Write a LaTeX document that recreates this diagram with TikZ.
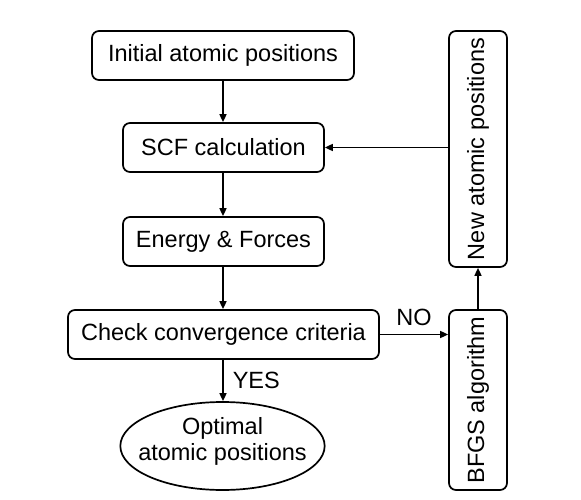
\documentclass[tikz,border=0pt]{standalone}
\usepackage{fontspec}
\setmainfont{Liberation Sans}
\usetikzlibrary{arrows.meta,shapes.geometric}
\begin{document}
\begin{tikzpicture}[x=1pt,y=-1pt,
  box/.style={draw,line width=1.7pt,rounded corners=7pt,inner sep=0pt,
    font=\fontsize{23.5}{27}\selectfont},
  vbox/.style={box,rotate=90},
  conn/.style={line width=1.6pt,-{Triangle[length=8pt,width=7pt]}},
  lbl/.style={font=\fontsize{23.5}{27}\selectfont,inner sep=0pt}]
\useasboundingbox (0,0) rectangle (581,500);
\node[box,minimum width=262pt,minimum height=49pt] (init) at (223,55.5) {Initial atomic positions};
\node[box,minimum width=201pt,minimum height=49pt] (scf) at (223.5,147.5) {SCF calculation};
\node[box,minimum width=201pt,minimum height=49pt] (ef) at (223.5,241.5) {Energy \& Forces};
\node[box,minimum width=311pt,minimum height=49pt] (check) at (223.5,334.5) {Check convergence criteria};
\node[draw,line width=1.7pt,ellipse,minimum width=201pt,minimum height=88pt,inner xsep=-12pt,inner ysep=0pt,
  text depth=15pt,align=center,font=\fontsize{23.5}{26}\selectfont] (opt) at (222.5,446) {Optimal\\atomic positions};
\node[vbox,minimum width=236pt,minimum height=58pt] (new) at (478,149) {New atomic positions};
\node[vbox,minimum width=180pt,minimum height=58pt] (bfgs) at (478,400) {BFGS algorithm};
\draw[conn] (init.south -| 223,0) -- (scf.north -| 223,0);
\draw[conn] (scf.south -| 223,0) -- (ef.north -| 223,0);
\draw[conn] (ef.south -| 223,0) -- (check.north -| 223,0);
\draw[conn] (check.south -| 223,0) -- (opt.north -| 223,0)
  node[lbl,midway,right=9pt] (yes) {YES};
\draw[conn] (check.east) -- (bfgs.north |- check.east)
  node[lbl,midway,above=8pt] (no) {NO};
\draw[conn] (bfgs.east) -- (new.west);
\draw[conn] (new.north |- scf.east) -- (scf.east);
\end{tikzpicture}
\end{document}
